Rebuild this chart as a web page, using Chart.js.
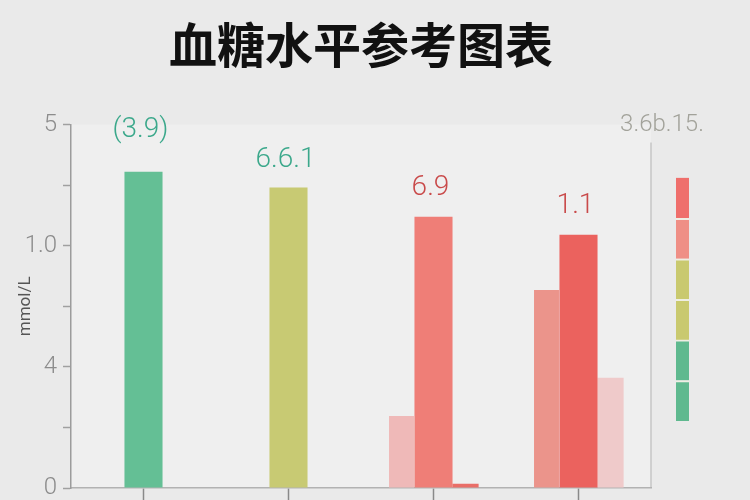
<!DOCTYPE html>
<html>
<head>
<meta charset="utf-8">
<script src="https://cdn.jsdelivr.net/npm/chart.js@4/dist/chart.umd.min.js"></script>
<style>
  html, body { margin: 0; padding: 0; background: #eaeaea; }
  #wrap { position: relative; width: 750px; height: 500px; }
  #main { position: absolute; left: 0; top: 0; }
  #scale { position: absolute; left: 612px; top: 100px; }
</style>
</head>
<body>
<div id="wrap">
  <canvas id="main" width="750" height="500"></canvas>
  <canvas id="scale" width="100" height="330"></canvas>
</div>
<script>
  /* Data
  -----------------------------------------------*/
  const categories = ['空腹', '餐后1小时', '餐后2小时', '睡前'];
  const leftValues = [null, null, 1.19, 3.27];
  const midValues = [5.22, 4.96, 4.48, 4.18];
  const rightValues = [null, null, 0.07, 1.82];
  const valueLabels = ['(3.9)', '6.6.1', '6.9', '1.1'];
  const yTickLabels = ['0', '', '4', '', '1.0', '', '5'];

  const scaleTitle = '3.6b.15.';
  const scaleSegments = [1, 1, 1, 1, 1, 1];   // bottom to top

  /* Styles
  -----------------------------------------------*/
  const leftColors = ['#efb9b8', '#efb9b8', '#efb9b8', '#eb948b'];
  const midColors = ['#64bf95', '#c8ca73', '#ef7e77', '#eb625e'];
  const rightColors = ['#e96e68', '#e96e68', '#e96e68', '#efcaca'];
  const labelColors = ['#3ba88b', '#3ba88b', '#c94a4a', '#c94a4a'];
  const labelLift = [42, 28, 29, 29];
  const segmentColors = ['#5fb98f', '#5fb98f', '#c9c96f', '#c9c96f', '#ef8f86', '#ef6f6c'];

  Chart.defaults.font.family = 'Roboto, "Noto Sans CJK SC", sans-serif';

  // lighter panel behind the plot + right border
  const panel = {
    id: 'panel',
    beforeDraw(chart) {
      const a = chart.chartArea, ctx = chart.ctx;
      ctx.save();
      ctx.fillStyle = '#efefef';
      ctx.fillRect(a.left, a.top, a.right - a.left, a.bottom - a.top);
      ctx.strokeStyle = '#c6c6c6';
      ctx.lineWidth = 1.5;
      ctx.beginPath();
      ctx.moveTo(a.right, a.top + 18);
      ctx.lineTo(a.right, a.bottom);
      ctx.stroke();
      ctx.restore();
    }
  };

  // numbers above the middle bars
  const barLabels = {
    id: 'barLabels',
    afterDatasetsDraw(chart) {
      const ctx = chart.ctx;
      const meta = chart.getDatasetMeta(1);
      ctx.save();
      ctx.font = '300 28px Roboto';
      ctx.textAlign = 'center';
      ctx.textBaseline = 'middle';
      meta.data.forEach((bar, i) => {
        ctx.fillStyle = labelColors[i];
        ctx.fillText(valueLabels[i], bar.x - 3, bar.y - labelLift[i]);
      });
      ctx.restore();
    }
  };

  new Chart(document.getElementById('main'), {
    type: 'bar',
    data: {
      labels: categories,
      datasets: [{
        data: leftValues,
        backgroundColor: leftColors,
        barPercentage: 0.78,
        categoryPercentage: 0.662
      }, {
        data: midValues,
        backgroundColor: midColors,
        barPercentage: 1.19,
        categoryPercentage: 0.662
      }, {
        data: rightValues,
        backgroundColor: rightColors,
        barPercentage: 0.82,
        categoryPercentage: 0.662
      }]
    },
    options: {
      responsive: false,
      animation: false,
      layout: { padding: { left: 0, right: 99, top: 0, bottom: 0 } },
      plugins: {
        legend: { display: false },
        tooltip: { enabled: false },
        title: {
          display: true,
          fullSize: false,
          text: '血糖水平参考图表',
          color: '#111',
          font: { family: '"Noto Sans CJK SC"', size: 48, weight: 'bold' },
          padding: { top: 16, bottom: 51 }
        }
      },
      scales: {
        x: {
          grid: { drawOnChartArea: false, offset: false, tickLength: 12, color: '#8a8a8a', tickWidth: 1.5 },
          border: { color: '#b2b2b2', width: 1.5 },
          ticks: { display: false },
          afterFit: (s) => { s.height = 12; }
        },
        y: {
          min: 0,
          max: 6,
          grid: { drawOnChartArea: false, tickLength: 8, color: '#a0a0a0', tickWidth: 1.5 },
          border: { color: '#9c9c9c', width: 1.5 },
          ticks: {
            stepSize: 1,
            padding: 6,
            color: '#8c8c8c',
            font: { size: 24, weight: 300 },
            callback: (v, i) => yTickLabels[i]
          },
          title: {
            display: true,
            text: 'mmol/L',
            color: '#555',
            font: { size: 17 },
            padding: { top: 16, bottom: 0 }
          },
          afterFit: (s) => { s.width = 71; s.paddingTop = 0; s.paddingBottom = 0; }
        }
      }
    },
    plugins: [panel, barLabels]
  });

  // colour scale at the right
  new Chart(document.getElementById('scale'), {
    type: 'bar',
    data: {
      labels: [''],
      datasets: scaleSegments.map((v, i) => ({
        data: [v],
        backgroundColor: segmentColors[i],
        borderColor: '#eeeee4',
        borderWidth: { top: i === scaleSegments.length - 1 ? 0 : 2, left: 0, right: 0, bottom: 0 },
        borderSkipped: false,
        barPercentage: 1,
        categoryPercentage: 1
      }))
    },
    options: {
      responsive: false,
      animation: false,
      layout: { padding: { left: 0, right: 0, top: 0, bottom: 9 } },
      plugins: {
        legend: { display: false },
        tooltip: { enabled: false },
        title: {
          display: true,
          text: scaleTitle,
          color: '#a2a29a',
          font: { size: 24, weight: 300 },
          padding: { top: 11, bottom: 38 }
        }
      },
      scales: {
        x: { display: false, stacked: true },
        y: {
          stacked: true, min: 0, max: 6,
          ticks: { display: false },
          grid: { display: false },
          border: { display: false },
          afterFit: (s) => { s.width = 64; }
        },
        y2: {
          position: 'right',
          ticks: { display: false },
          grid: { display: false },
          border: { display: false },
          afterFit: (s) => { s.width = 23; }
        }
      }
    }
  });
</script>
</body>
</html>
